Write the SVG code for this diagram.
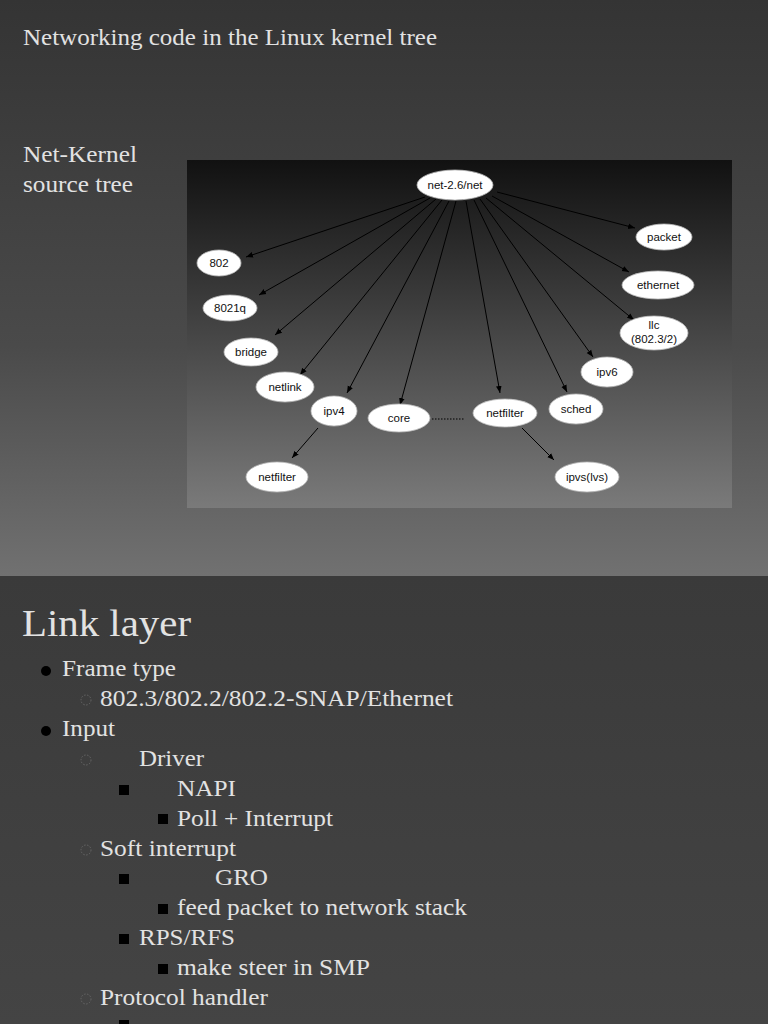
<svg xmlns="http://www.w3.org/2000/svg" width="768" height="1024" viewBox="0 0 768 1024">
<defs>
<linearGradient id="g1" x1="0" y1="0" x2="0" y2="1"><stop offset="0" stop-color="#343434"/><stop offset="0.6" stop-color="#4a4a4a"/><stop offset="1" stop-color="#717171"/></linearGradient>
<linearGradient id="g2" x1="0" y1="0" x2="0" y2="1"><stop offset="0" stop-color="#111"/><stop offset="1" stop-color="#7a7a7a"/></linearGradient>
<linearGradient id="g3" x1="0" y1="0" x2="0" y2="1"><stop offset="0" stop-color="#3a3a3a"/><stop offset="1" stop-color="#444"/></linearGradient>
<marker id="ah" viewBox="0 0 10 10" refX="10" refY="5" markerWidth="7" markerHeight="7" orient="auto"><path d="M0,1 L10,5 L0,9 z" fill="#000"/></marker>
</defs>
<style>
.t{font-family:"Liberation Serif",serif;fill:#e2e2e2;font-size:23px}
.h{font-size:38px}
.n{font-family:"Liberation Sans",Arial,sans-serif;font-size:11.5px;fill:#111;text-anchor:middle}
.c{fill:#fff;stroke:#bbb;stroke-width:0.8}
.e{stroke:#000;stroke-width:1;fill:none;marker-end:url(#ah)}
.b{fill:#000}
.o{fill:none;stroke:#666;stroke-width:1;stroke-dasharray:1.5 1.5}
</style>
<rect width="768" height="576" fill="url(#g1)"/>
<rect y="576" width="768" height="448" fill="url(#g3)"/>
<text class="t" x="23" y="45" textLength="414" lengthAdjust="spacingAndGlyphs">Networking code in the Linux kernel tree</text>
<text class="t" x="23" y="162" textLength="114" lengthAdjust="spacingAndGlyphs">Net-Kernel</text>
<text class="t" x="23" y="192" textLength="110" lengthAdjust="spacingAndGlyphs">source tree</text>
<rect x="187" y="160" width="545" height="348" fill="url(#g2)"/>
<g id="connectors">
<line class="e" x1="425" y1="197" x2="246" y2="257"/>
<line class="e" x1="430" y1="198" x2="259" y2="295"/>
<line class="e" x1="436" y1="199" x2="275" y2="335"/>
<line class="e" x1="442" y1="200" x2="300" y2="375"/>
<line class="e" x1="449" y1="201" x2="347" y2="393"/>
<line class="e" x1="456" y1="201" x2="400" y2="405"/>
<line class="e" x1="466" y1="201" x2="500" y2="393"/>
<line class="e" x1="474" y1="200" x2="567" y2="392"/>
<line class="e" x1="480" y1="199" x2="593" y2="357"/>
<line class="e" x1="486" y1="198" x2="634" y2="320"/>
<line class="e" x1="492" y1="196" x2="629" y2="272"/>
<line class="e" x1="497" y1="192" x2="635" y2="228"/>
<line class="e" x1="318" y1="428" x2="292" y2="458"/>
<line class="e" x1="522" y1="428" x2="554" y2="460"/>
<line x1="432" y1="419" x2="464" y2="419" stroke="#000" stroke-width="1" stroke-dasharray="1.5 1.5"/>
</g>
<g id="n-root"><ellipse class="c" cx="455" cy="185" rx="38" ry="15"/><text class="n" x="455" y="189">net-2.6/net</text></g>
<g id="n-packet"><ellipse class="c" cx="664" cy="237" rx="28" ry="13"/><text class="n" x="664" y="241">packet</text></g>
<g id="n-802"><ellipse class="c" cx="219" cy="263" rx="22" ry="13"/><text class="n" x="219" y="267">802</text></g>
<g id="n-ethernet"><ellipse class="c" cx="658" cy="285" rx="36" ry="14"/><text class="n" x="658" y="289">ethernet</text></g>
<g id="n-8021q"><ellipse class="c" cx="230" cy="308" rx="27" ry="13"/><text class="n" x="230" y="312">8021q</text></g>
<g id="n-llc"><ellipse class="c" cx="654" cy="333" rx="34" ry="17"/><text class="n" x="654" y="329">llc</text><text class="n" x="654" y="343">(802.3/2)</text></g>
<g id="n-bridge"><ellipse class="c" cx="251" cy="352" rx="27" ry="14"/><text class="n" x="251" y="356">bridge</text></g>
<g id="n-ipv6"><ellipse class="c" cx="607" cy="372" rx="26" ry="15"/><text class="n" x="607" y="376">ipv6</text></g>
<g id="n-netlink"><ellipse class="c" cx="285" cy="387" rx="29" ry="15"/><text class="n" x="285" y="391">netlink</text></g>
<g id="n-ipv4"><ellipse class="c" cx="334" cy="411" rx="23" ry="15"/><text class="n" x="334" y="415">ipv4</text></g>
<g id="n-core"><ellipse class="c" cx="399" cy="418" rx="31" ry="14"/><text class="n" x="399" y="422">core</text></g>
<g id="n-netfilter1"><ellipse class="c" cx="505" cy="413" rx="32" ry="14"/><text class="n" x="505" y="417">netfilter</text></g>
<g id="n-sched"><ellipse class="c" cx="576" cy="409" rx="27" ry="15"/><text class="n" x="576" y="413">sched</text></g>
<g id="n-netfilter2"><ellipse class="c" cx="277" cy="477" rx="31" ry="15"/><text class="n" x="277" y="481">netfilter</text></g>
<g id="n-ipvs"><ellipse class="c" cx="587" cy="477" rx="32" ry="15"/><text class="n" x="587" y="481">ipvs(lvs)</text></g>

<text class="t h" x="22" y="636" textLength="169" lengthAdjust="spacingAndGlyphs">Link layer</text>
<circle class="b" cx="46" cy="671" r="5"/><text class="t" x="62" y="676" textLength="114" lengthAdjust="spacingAndGlyphs">Frame type</text>
<circle class="o" cx="86" cy="700" r="5"/><text class="t" x="100" y="706" textLength="353" lengthAdjust="spacingAndGlyphs">802.3/802.2/802.2-SNAP/Ethernet</text>
<circle class="b" cx="46" cy="731" r="5"/><text class="t" x="62" y="736" textLength="53" lengthAdjust="spacingAndGlyphs">Input</text>
<circle class="o" cx="86" cy="760" r="5"/><text class="t" x="139" y="766" textLength="65" lengthAdjust="spacingAndGlyphs">Driver</text>
<rect class="b" x="119" y="785" width="10" height="10"/><text class="t" x="177" y="796" textLength="59" lengthAdjust="spacingAndGlyphs">NAPI</text>
<rect class="b" x="158" y="814" width="10" height="10"/><text class="t" x="177" y="826" textLength="156" lengthAdjust="spacingAndGlyphs">Poll + Interrupt</text>
<circle class="o" cx="86" cy="850" r="5"/><text class="t" x="100" y="856" textLength="136" lengthAdjust="spacingAndGlyphs">Soft interrupt</text>
<rect class="b" x="119" y="874" width="10" height="10"/><text class="t" x="215" y="885" textLength="53" lengthAdjust="spacingAndGlyphs">GRO</text>
<rect class="b" x="158" y="904" width="10" height="10"/><text class="t" x="177" y="915" textLength="290" lengthAdjust="spacingAndGlyphs">feed packet to network stack</text>
<rect class="b" x="119" y="934" width="10" height="10"/><text class="t" x="139" y="945" textLength="96" lengthAdjust="spacingAndGlyphs">RPS/RFS</text>
<rect class="b" x="158" y="964" width="10" height="10"/><text class="t" x="177" y="975" textLength="193" lengthAdjust="spacingAndGlyphs">make steer in SMP</text>
<circle class="o" cx="86" cy="999" r="5"/><text class="t" x="100" y="1005" textLength="168" lengthAdjust="spacingAndGlyphs">Protocol handler</text>
<rect class="b" x="119" y="1020" width="10" height="10"/>
</svg>
